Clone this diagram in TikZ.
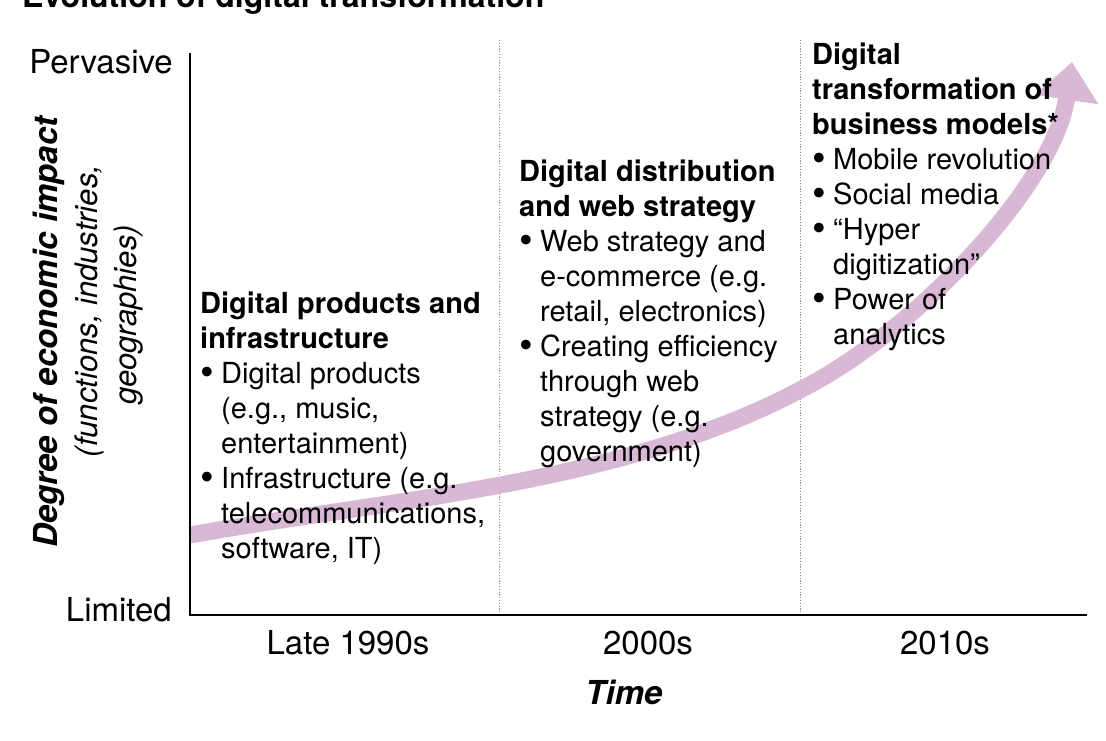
\documentclass[tikz,border=0pt]{standalone}
\usepackage{fontspec}
\setmainfont{TeX Gyre Heros}
\usetikzlibrary{arrows.meta}
\definecolor{arrowpink}{RGB}{216,184,212}
\definecolor{dotgray}{RGB}{150,150,150}
\newcommand\bulitem{\makebox[21pt][l]{\raisebox{-2.6pt}{\fontsize{39}{35}\selectfont\textbullet}}}
\newcommand\hangind{\hspace*{21pt}}
\begin{document}
\begin{tikzpicture}[x=1pt,y=-1pt,
  body/.style={font=\fontsize{29}{35}\selectfont, inner sep=0pt, anchor=base west},
  axislbl/.style={font=\fontsize{33}{38}\selectfont, inner sep=0pt},
  axisline/.style={line width=2pt, black},
  divider/.style={line width=1pt, dotgray, dash pattern=on 1.2pt off 1.6pt},
  trend/.style={line width=17pt, arrowpink, -{Triangle[width=62pt,length=38pt]}},
  titlestyle/.style={font=\fontsize{32}{38}\selectfont\bfseries, inner sep=0pt, anchor=base west}]
\useasboundingbox (0,0) rectangle (1106,740);

% title (cut by the top edge)
\node[titlestyle] (title) at (22,7) {Evolution of digital transformation};

% dotted dividers
\coordinate (d1t) at (499,40); \coordinate (d1b) at (499,615);
\coordinate (d2t) at (800,40); \coordinate (d2b) at (800,615);
\draw[divider] (d1t) -- (d1b);
\draw[divider] (d2t) -- (d2b);

% trend arrow
\coordinate (as) at (190,535);
\coordinate (am) at (800,390);
\coordinate (ae) at (1072,62);
\draw[trend] (as) .. controls (390,499) and (620,485) .. (am)
                  .. controls (915,332) and (1054,185) .. (ae);

% axes
\coordinate (ytop) at (190,53);
\coordinate (orig) at (190,615);
\coordinate (xend) at (1087,615);
\draw[axisline] (ytop) -- (orig) -- (xend);

% axis end labels
\node[axislbl, anchor=base east] (perv) at (173,73) {Pervasive};
\node[axislbl, anchor=base east] (lim) at (172,621) {Limited};

% y axis title
\node[axislbl, anchor=base, rotate=90] (ytitle) at (57,332) {\bfseries\itshape Degree of economic impact};
\node[font=\fontsize{31}{38}\selectfont\itshape, inner sep=0pt, anchor=base, rotate=90] (ysub1) at (97,311) {(functions, industries,};
\node[font=\fontsize{31}{38}\selectfont\itshape, inner sep=0pt, anchor=base, rotate=90] (ysub2) at (136,315) {geographies)};

% x axis labels
\node[axislbl, anchor=base] (x1) at (348,654) {Late 1990s};
\node[axislbl, anchor=base] (x2) at (648,654) {2000s};
\node[axislbl, anchor=base] (x3) at (945,654) {2010s};
\node[axislbl, anchor=base] (xt) at (624,704) {\bfseries\itshape Time};

% text blocks
\node[body] (b1) at (200,313) {\begin{tabular}[t]{@{}l@{}}
\textbf{Digital products and}\\
\textbf{infrastructure}\\
\bulitem Digital products\\
\hangind (e.g., music,\\
\hangind entertainment)\\
\bulitem Infrastructure (e.g.\\
\hangind telecommunications,\\
\hangind software, IT)
\end{tabular}};

\node[body] (b2) at (519,181) {\begin{tabular}[t]{@{}l@{}}
\textbf{Digital distribution}\\
\textbf{and web strategy}\\
\bulitem Web strategy and\\
\hangind e-commerce (e.g.\\
\hangind retail, electronics)\\
\bulitem Creating efficiency\\
\hangind through web\\
\hangind strategy (e.g.\\
\hangind government)
\end{tabular}};

\node[body] (b3) at (812,64) {\begin{tabular}[t]{@{}l@{}}
\textbf{Digital}\\
\textbf{transformation of}\\
\textbf{business models*}\\
\bulitem Mobile revolution\\
\bulitem Social media\\
\bulitem “Hyper\\
\hangind digitization”\\
\bulitem Power of\\
\hangind analytics
\end{tabular}};
\end{tikzpicture}
\end{document}
